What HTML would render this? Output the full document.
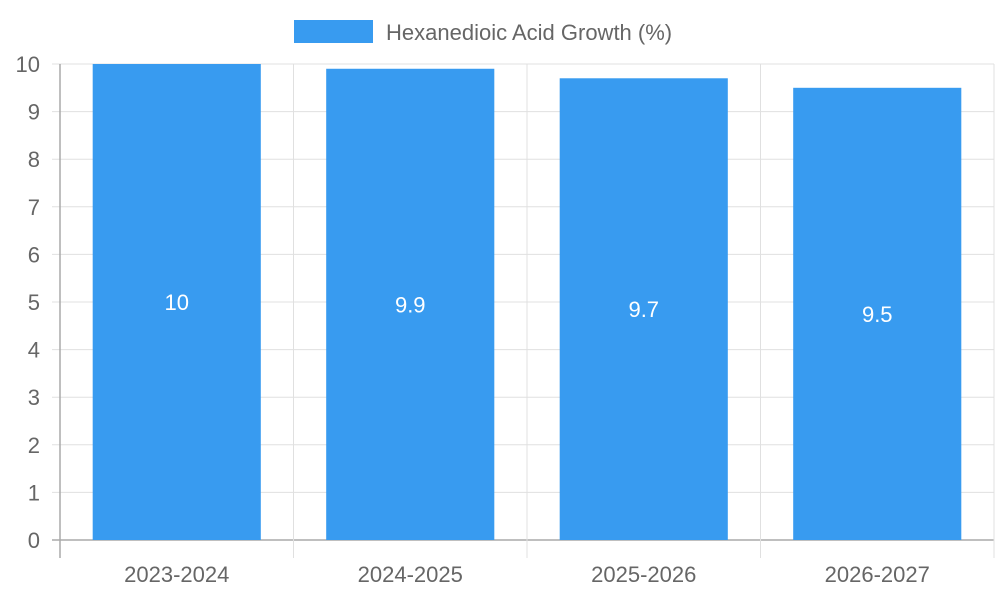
<!DOCTYPE html>
<html><head><meta charset="utf-8"><style>
body{margin:0;background:#fff;}
svg{display:block;font-family:"Liberation Sans",sans-serif;}
</style></head><body>
<svg id="chart" width="1000" height="600" viewBox="0 0 1000 600"></svg>
<script>
const categories=["2023-2024","2024-2025","2025-2026","2026-2027"];
const values=[10,9.9,9.7,9.5];
const yTicks=[0,1,2,3,4,5,6,7,8,9,10];
const seriesName="Hexanedioic Acid Growth (%)";
const svg=document.getElementById('chart');
const NS="http://www.w3.org/2000/svg";
const L=60,R=994,T=64,B=540,yMax=10;
const y=v=>B-(v/yMax)*(B-T);
const bw=(R-L)/categories.length;
const x=i=>L+i*bw;
function el(t,a,txt){const e=document.createElementNS(NS,t);for(const k in a)e.setAttribute(k,a[k]);if(txt!==undefined)e.textContent=txt;svg.appendChild(e);return e;}
yTicks.forEach(t=>{
  const g=el('line',{x1:L-8,x2:R,y1:y(t),y2:y(t),stroke:t===0?'#aaa':'#e0e0e0','stroke-width':t===0?1.5:1});
  
  
  const lb=el('text',{x:L-20,y:y(t)+8,'text-anchor':'end','font-size':22,fill:'#666'},t);
  
  
});
for(let i=0;i<=categories.length;i++){
  const g=el('line',{x1:x(i),x2:x(i),y1:T,y2:B+18,stroke:i===0?'#aaa':'#e0e0e0','stroke-width':i===0?1.5:1});
  
  
}
categories.forEach((c,i)=>{
  const bx=x(i)+bw*0.14,w=bw*0.72;
  const r=el('rect',{x:bx,y:y(values[i]),width:w,height:B-y(values[i]),fill:'#389bf0'});
  
  
  const v=el('text',{x:bx+w/2,y:(y(values[i])+B)/2+8,'text-anchor':'middle','font-size':22,fill:'#fff'},values[i]);
  
  
  const lb=el('text',{x:x(i)+bw/2,y:582,'text-anchor':'middle','font-size':22,fill:'#666'},c);
  
  
});
const lr=el('rect',{x:294,y:20,width:79,height:23,fill:'#389bf0'});


const lt=el('text',{x:386,y:40,'font-size':22,fill:'#666'},seriesName);


</script>
</body></html>
